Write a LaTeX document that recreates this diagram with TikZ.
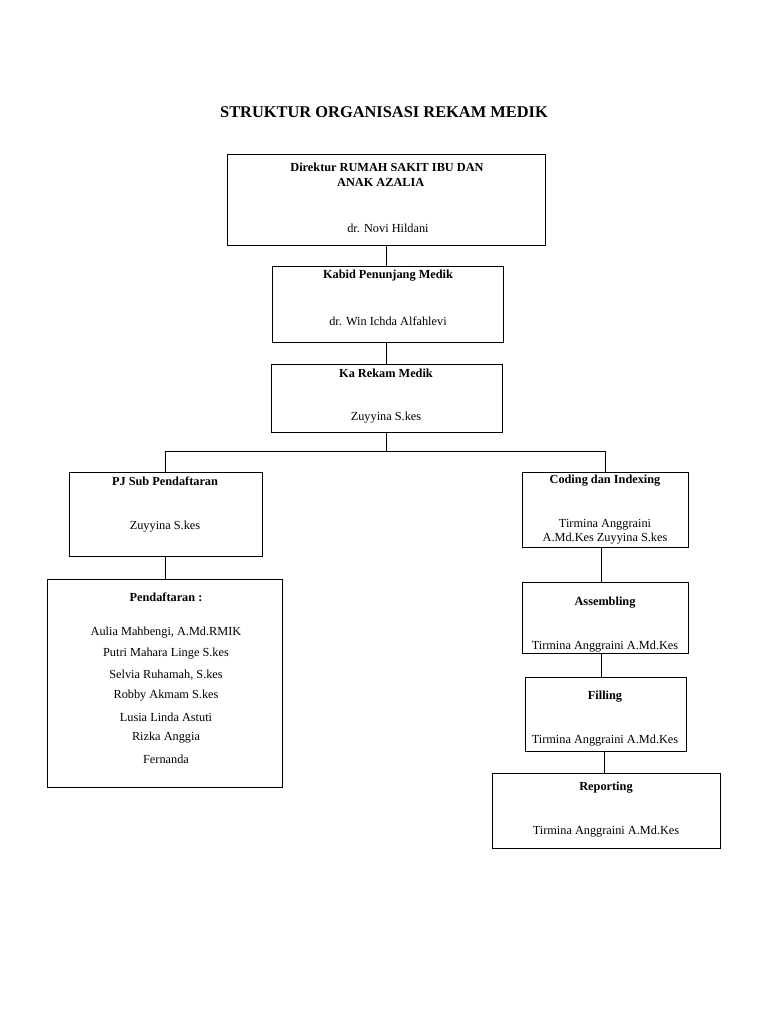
\documentclass[tikz,border=0pt]{standalone}
\usepackage{fontspec}
\setmainfont{Liberation Serif}
\usetikzlibrary{fit}
\begin{document}
\begin{tikzpicture}[x=0.03cm,y=-0.03cm,
  box/.style={draw=black,line width=0.6pt,inner sep=0pt},
  head/.style={font=\fontsize{10.5}{12}\selectfont\bfseries},
  person/.style={font=\fontsize{10.5}{12}\selectfont},
  link/.style={draw=black,line width=0.6pt}
]
  \useasboundingbox (0,0) rectangle (768,1024);

  \node[font=\fontsize{14}{16}\selectfont\bfseries] (title) at (384,112) {STRUKTUR ORGANISASI REKAM MEDIK};

  % boxes
  \node[box,fit={(227,154) (545,245)}] (dir) {};
  \node[box,fit={(272,266) (503,342)}] (kabid) {};
  \node[box,fit={(271,364) (502,432)}] (karm) {};
  \node[box,fit={(69,472) (262,556)}] (pjsub) {};
  \node[box,fit={(522,472) (688,547)}] (coding) {};
  \node[box,fit={(47,579) (282,787)}] (daftar) {};
  \node[box,fit={(522,582) (688,653)}] (assem) {};
  \node[box,fit={(525,677) (686,751)}] (fill) {};
  \node[box,fit={(492,773) (720,848)}] (report) {};

  % texts
  \node[head] (t1) at (387,167) {Direktur RUMAH SAKIT IBU DAN};
  \node[head,anchor=west] (t2) at (333,182) {ANAK AZALIA};
  \node[person] (t3) at (388,228) {dr. Novi Hildani};
  \node[head] (t4) at (388,276) {Kabid Penunjang Medik};
  \node[person] (t5) at (388,321) {dr. Win Ichda Alfahlevi};
  \node[head] (t6) at (386,373) {Ka Rekam Medik};
  \node[person] (t7) at (386,418) {Zuyyina S.kes};
  \node[head] (t8) at (165,481) {PJ Sub Pendaftaran};
  \node[person] (t9) at (165,527) {Zuyyina S.kes};
  \node[head] (t10) at (605,481) {Coding dan Indexing};
  \node[person] (t11) at (605,525) {Tirmina Anggraini};
  \node[person] (t12) at (605,539) {A.Md.Kes Zuyyina S.kes};
  \node[head] (t13) at (166,597) {Pendaftaran :};
  \foreach \txt [count=\i] in {{Aulia Mahbengi, A.Md.RMIK},{Putri Mahara Linge S.kes},{Selvia Ruhamah, S.kes},{Robby Akmam S.kes},{Lusia Linda Astuti},{Rizka Anggia},{Fernanda}}
    \node[person] (p\i) at (166,612+21*\i) {\txt};
  \node[head] (t14) at (605,603) {Assembling};
  \node[person] (t15) at (605,647) {Tirmina Anggraini A.Md.Kes};
  \node[head] (t16) at (605,697) {Filling};
  \node[person] (t17) at (605,741) {Tirmina Anggraini A.Md.Kes};
  \node[head] (t18) at (606,788) {Reporting};
  \node[person] (t19) at (606,832) {Tirmina Anggraini A.Md.Kes};

  % connectors
  \coordinate (split) at (386,451);
  \draw[link] (dir.south -| split) -- (kabid.north -| split);
  \draw[link] (kabid.south -| split) -- (karm.north -| split);
  \draw[link] (karm.south -| split) -- (split);
  \draw[link] (split) -| (pjsub.north);
  \draw[link] (split) -| (coding.north);
  \draw[link] (pjsub.south) -- (daftar.north -| pjsub.south);
  \draw[link] ([xshift=-4*0.03cm]coding.south) -- ([xshift=-4*0.03cm]assem.north);
  \draw[link] ([xshift=-4*0.03cm]assem.south) -- ([xshift=-4*0.03cm]assem.south |- fill.north);
  \draw[link] ([xshift=-1*0.03cm]fill.south) -- ([xshift=-1*0.03cm]fill.south |- report.north);
\end{tikzpicture}
\end{document}
